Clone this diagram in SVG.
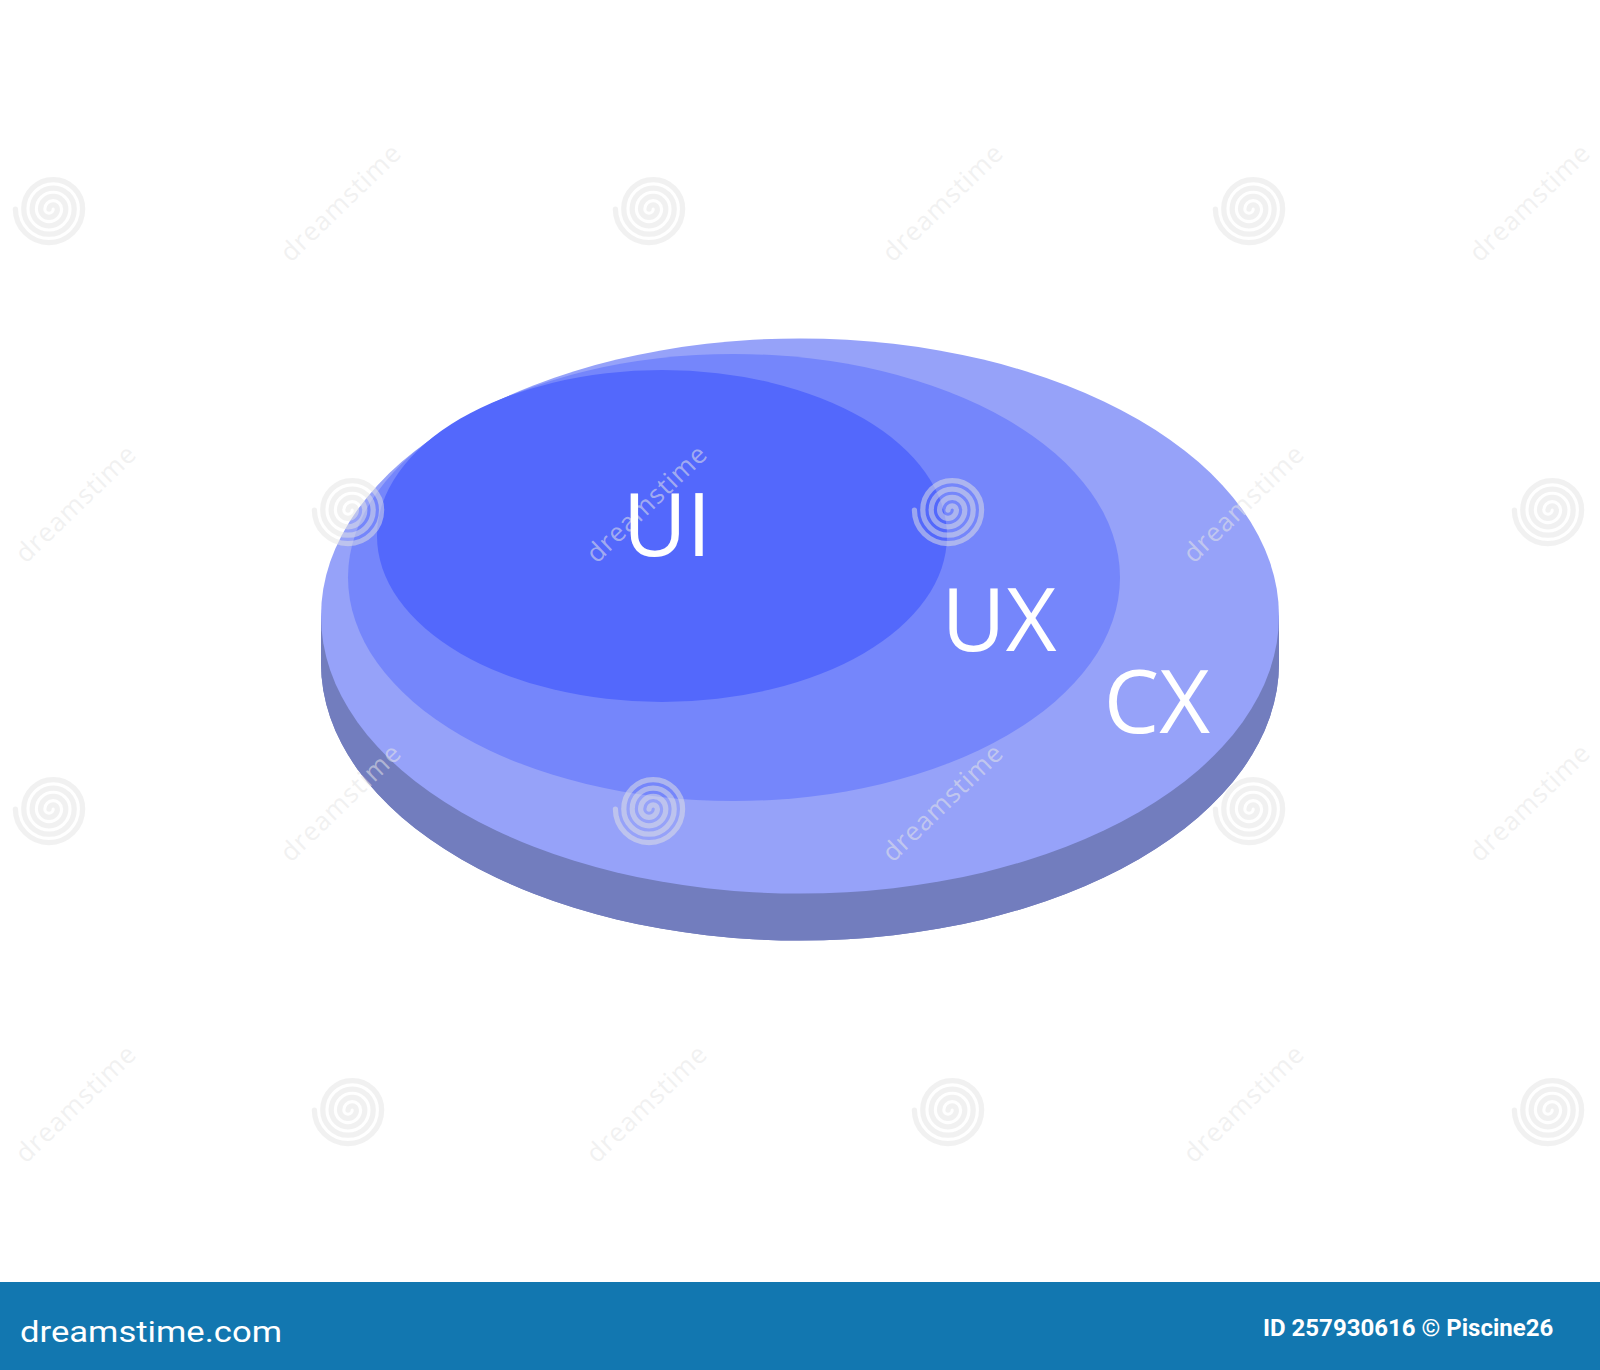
<svg xmlns="http://www.w3.org/2000/svg" width="1600" height="1370" viewBox="0 0 1600 1370">
  <defs>
    <style>
      .label { font-family: "Open Sans", "Noto Sans", sans-serif; font-size: 88px; fill: #ffffff; text-anchor: middle; }
      .wm-text { font-family: "Open Sans", "Noto Sans", sans-serif; font-size: 26px; fill: #e6e6e6; fill-opacity: 0.55; text-anchor: middle; letter-spacing: 1px; }
      .swirl { fill: none; stroke: #e4e4e4; stroke-opacity: 0.5; stroke-width: 5; stroke-linecap: round; }
      .bar-text { font-family: "Roboto", "Liberation Sans", sans-serif; fill: #ffffff; }
    </style>
    <symbol id="swirl" viewBox="-40 -40 80 80" overflow="visible">
      <path d="M 0,0 A 4 4 0 0 1 8,0 A 8 8 0 0 1 -8,0 A 12 12 0 0 1 16,0 A 16 16 0 0 1 -16,0 A 20 20 0 0 1 24,0 A 24 24 0 0 1 -24,0 A 28 28 0 0 1 32,0 A 32 32 0 0 1 -32,0"/>
    </symbol>
  </defs>

  <rect x="0" y="0" width="1600" height="1370" fill="#ffffff"/>

  <g id="disc">
    <g id="cx">
      <path d="M 321,616 L 321,663 A 479 277.5 0 0 0 1279,663 L 1279,616 Z" fill="#727dbe"/>
      <ellipse cx="800" cy="663" rx="479" ry="277.5" fill="#727dbe"/>
      <ellipse cx="800" cy="616" rx="479" ry="277.5" fill="#96a2f9"/>
    </g>
    <g id="ux">
      <ellipse cx="734" cy="577.5" rx="386" ry="223.5" fill="#7586fb"/>
    </g>
    <g id="ui">
      <ellipse cx="662" cy="536" rx="285" ry="166" fill="#5368fc"/>
    </g>
  </g>

  <g id="watermark">
    <g class="swirl">
      <use href="#swirl" x="7" y="167" width="84" height="84"/>
      <use href="#swirl" x="607" y="167" width="84" height="84"/>
      <use href="#swirl" x="1207" y="167" width="84" height="84"/>
      <use href="#swirl" x="306" y="468" width="84" height="84"/>
      <use href="#swirl" x="906" y="468" width="84" height="84"/>
      <use href="#swirl" x="1506" y="468" width="84" height="84"/>
      <use href="#swirl" x="7" y="767" width="84" height="84"/>
      <use href="#swirl" x="607" y="767" width="84" height="84"/>
      <use href="#swirl" x="1207" y="767" width="84" height="84"/>
      <use href="#swirl" x="306" y="1068" width="84" height="84"/>
      <use href="#swirl" x="906" y="1068" width="84" height="84"/>
      <use href="#swirl" x="1506" y="1068" width="84" height="84"/>
    </g>
    <g>
      <text class="wm-text" transform="translate(347,209) rotate(-44)">dreamstime</text>
      <text class="wm-text" transform="translate(949,209) rotate(-44)">dreamstime</text>
      <text class="wm-text" transform="translate(1536,209) rotate(-44)">dreamstime</text>
      <text class="wm-text" transform="translate(82,510) rotate(-44)">dreamstime</text>
      <text class="wm-text" transform="translate(653,510) rotate(-44)">dreamstime</text>
      <text class="wm-text" transform="translate(1250,510) rotate(-44)">dreamstime</text>
      <text class="wm-text" transform="translate(347,809) rotate(-44)">dreamstime</text>
      <text class="wm-text" transform="translate(949,809) rotate(-44)">dreamstime</text>
      <text class="wm-text" transform="translate(1536,809) rotate(-44)">dreamstime</text>
      <text class="wm-text" transform="translate(82,1110) rotate(-44)">dreamstime</text>
      <text class="wm-text" transform="translate(653,1110) rotate(-44)">dreamstime</text>
      <text class="wm-text" transform="translate(1250,1110) rotate(-44)">dreamstime</text>
    </g>
  </g>

  <g id="labels">
    <text class="label" x="667" y="556">UI</text>
    <text class="label" x="999" y="651">UX</text>
    <text class="label" x="1157" y="733">CX</text>
  </g>

  <g id="footer">
    <rect x="0" y="1282" width="1600" height="88" fill="#1277b0"/>
    <text class="bar-text" x="20" y="1342" font-size="30" textLength="262" lengthAdjust="spacingAndGlyphs">dreamstime.com</text>
    <text class="bar-text" x="1263" y="1336" font-size="24" font-weight="bold">ID 257930616 © Piscine26</text>
  </g>
</svg>
